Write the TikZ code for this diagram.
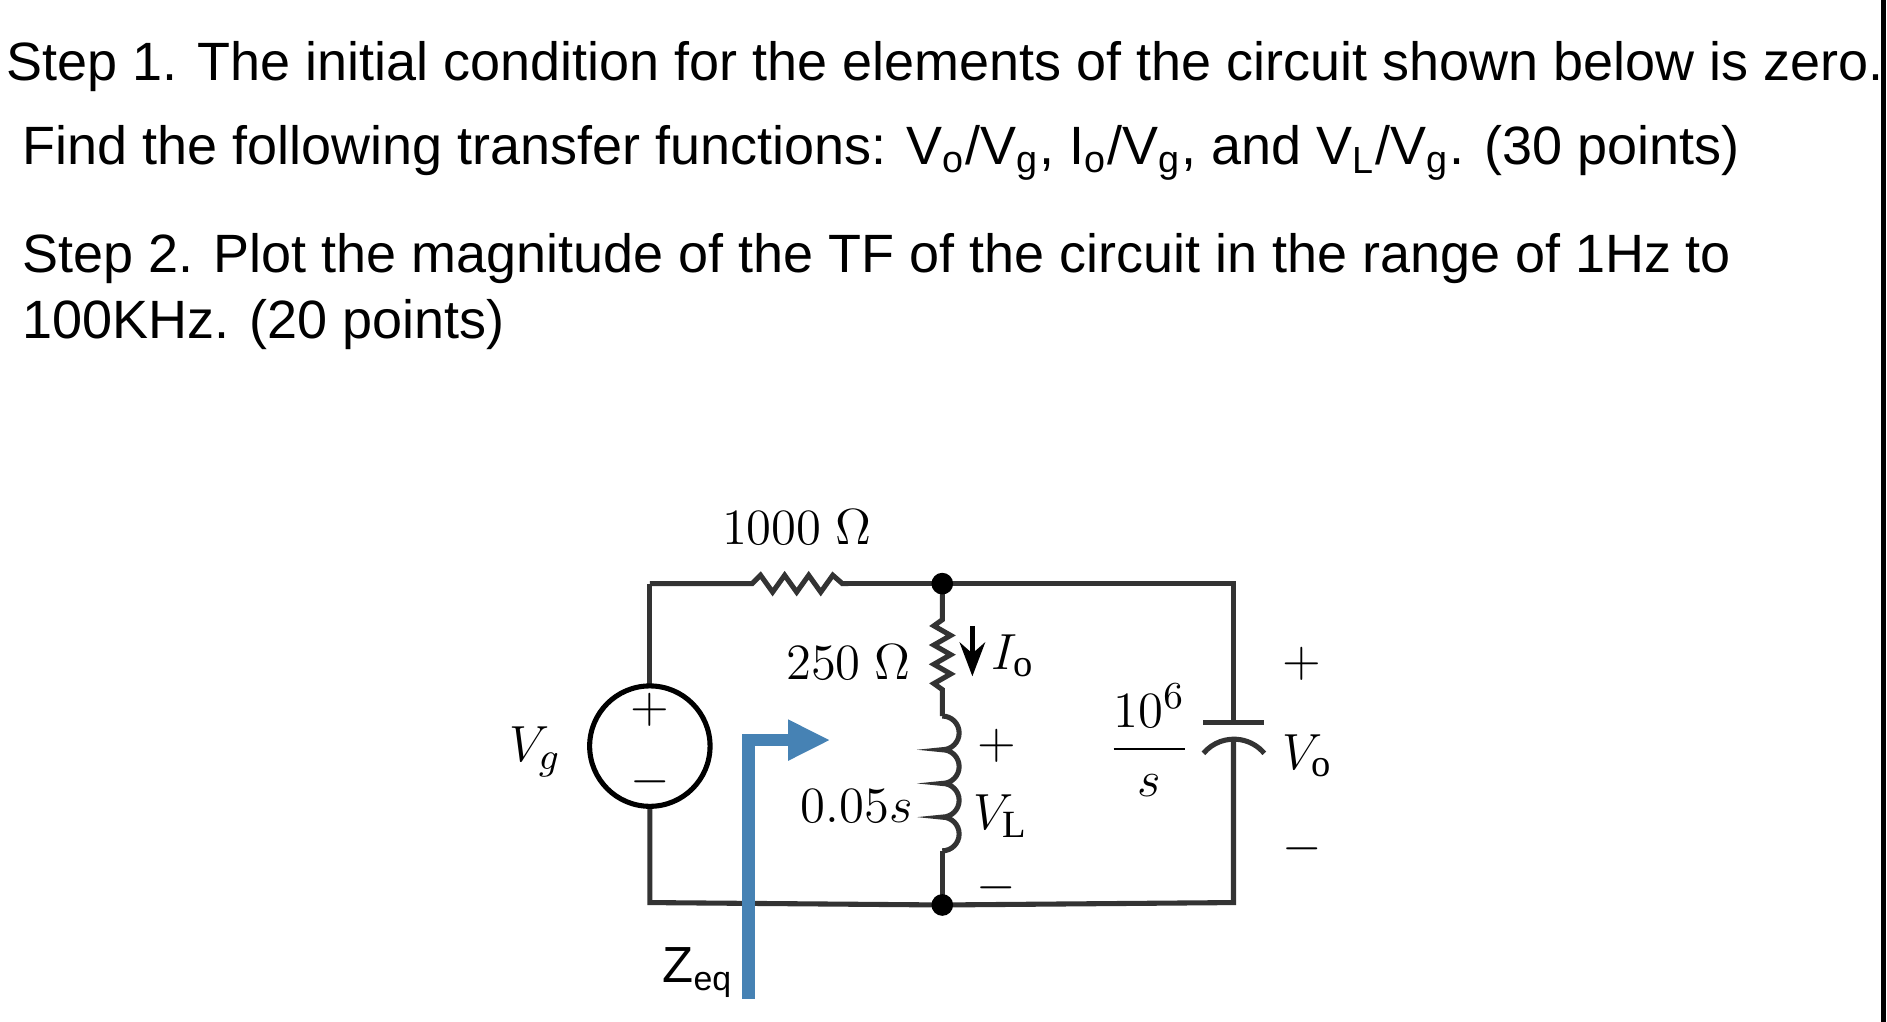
\documentclass[tikz,border=0pt]{standalone}
\usepackage{fontspec}
\setmainfont{Liberation Serif}
\newfontfamily\arialf{Liberation Sans}
\usetikzlibrary{arrows.meta}
\begin{document}
\begin{tikzpicture}[x=0.01cm,y=-0.01cm,
  wire/.style={line width=1.2pt,black!80},
  txt/.style={font=\arialf\fontsize{12.75}{15}\selectfont,anchor=west,inner sep=0},
  lab/.style={font=\fontsize{13}{15}\selectfont,inner sep=0}]
\useasboundingbox (0,0) rectangle (1568,849);
\draw[line width=1pt] (1565,0) -- (1565,849);
\node[txt] (t1) at (5,55) {Step 1. The initial condition for the elements of the circuit shown below is zero.};
\node[txt] (t2) at (18,127) {Find the following transfer functions: V\textsubscript{o}/V\textsubscript{g}, I\textsubscript{o}/V\textsubscript{g}, and V\textsubscript{L}/V\textsubscript{g}. (30 points)};
\node[txt] (t3) at (18,215) {Step 2. Plot the magnitude of the TF of the circuit in the range of 1Hz to};
\node[txt] (t4) at (18,270) {100KHz. (20 points)};
% circuit
\coordinate (tl) at (540,485); \coordinate (bl) at (540,750);
\coordinate (tr) at (1025,485); \coordinate (br) at (1025,750);
\coordinate (nt) at (783,485); \coordinate (nb) at (783,752);
\draw[wire] (tl) -- (540,570);
\draw[wire] (540,670) -- (bl) -- (nb) -- (br) -- (1025,613);
\draw[wire] (1025,600) -- (tr) -- (nt) -- (705,485);
\draw[wire] (tl) -- (625,485) -- (632,478) -- (642,492) -- (652,478) -- (662,492) -- (672,478) -- (682,492) -- (692,478) -- (700,485) -- (705,485);
% 250 ohm
\draw[wire] (nt) -- (783,515) -- (776,520) -- (790,528) -- (776,536) -- (790,544) -- (776,552) -- (790,560) -- (776,568) -- (783,573) -- (783,595);
% inductor
\draw[wire] (783,595) arc[start angle=-90,end angle=90,radius=14] arc[start angle=-90,end angle=90,radius=14] arc[start angle=-90,end angle=90,radius=14] arc[start angle=-90,end angle=90,radius=14];
\draw[wire] (783,707) -- (nb);
\fill (nt) circle (9); \fill (nb) circle (9);
% capacitor
\draw[wire] (1000,600) -- (1050,600);
\draw[wire] (1000,626) arc[start angle=-140,end angle=-40,radius=33];
% source
\node[draw,circle,line width=1.2pt,minimum size=1cm,inner sep=0,fill=white] (src) at (540,620) {};
\node[lab] at (540,590) {$+$};
\node[lab] at (540,650) {$-$};
\node[lab] (vg) at (445,625) {$V_g$};
\node[lab] (r1) at (662,438) {$1000\ \Omega$};
\node[lab] (r2) at (705,550) {$250\ \Omega$};
\node[lab] (l1) at (712,670) {$0.05s$};
\draw[-{Stealth[length=8pt]},line width=1.2pt] (808,520) -- (808,562);
\node[lab] (io) at (842,545) {$I_{\mathrm o}$};
\node[lab] at (828,620) {$+$};
\node[lab] (vl) at (832,678) {$V_{\mathrm L}$};
\node[lab] at (828,738) {$-$};
\node[lab] (cap) at (955,615) {$\displaystyle\frac{10^6}{s}$};
\node[lab] at (1082,552) {$+$};
\node[lab] (vo) at (1087,628) {$V_{\mathrm o}$};
\node[lab] at (1082,705) {$-$};
\draw[-{Triangle[length=10pt,width=9pt]},line width=3pt,color={rgb,255:red,70;green,130;blue,180}] (622,830) -- (622,615) -- (690,615);
\node[font=\arialf\fontsize{12}{14}\selectfont,inner sep=0] (zeq) at (580,808) {Z\textsubscript{eq}};
\end{tikzpicture}
\end{document}
